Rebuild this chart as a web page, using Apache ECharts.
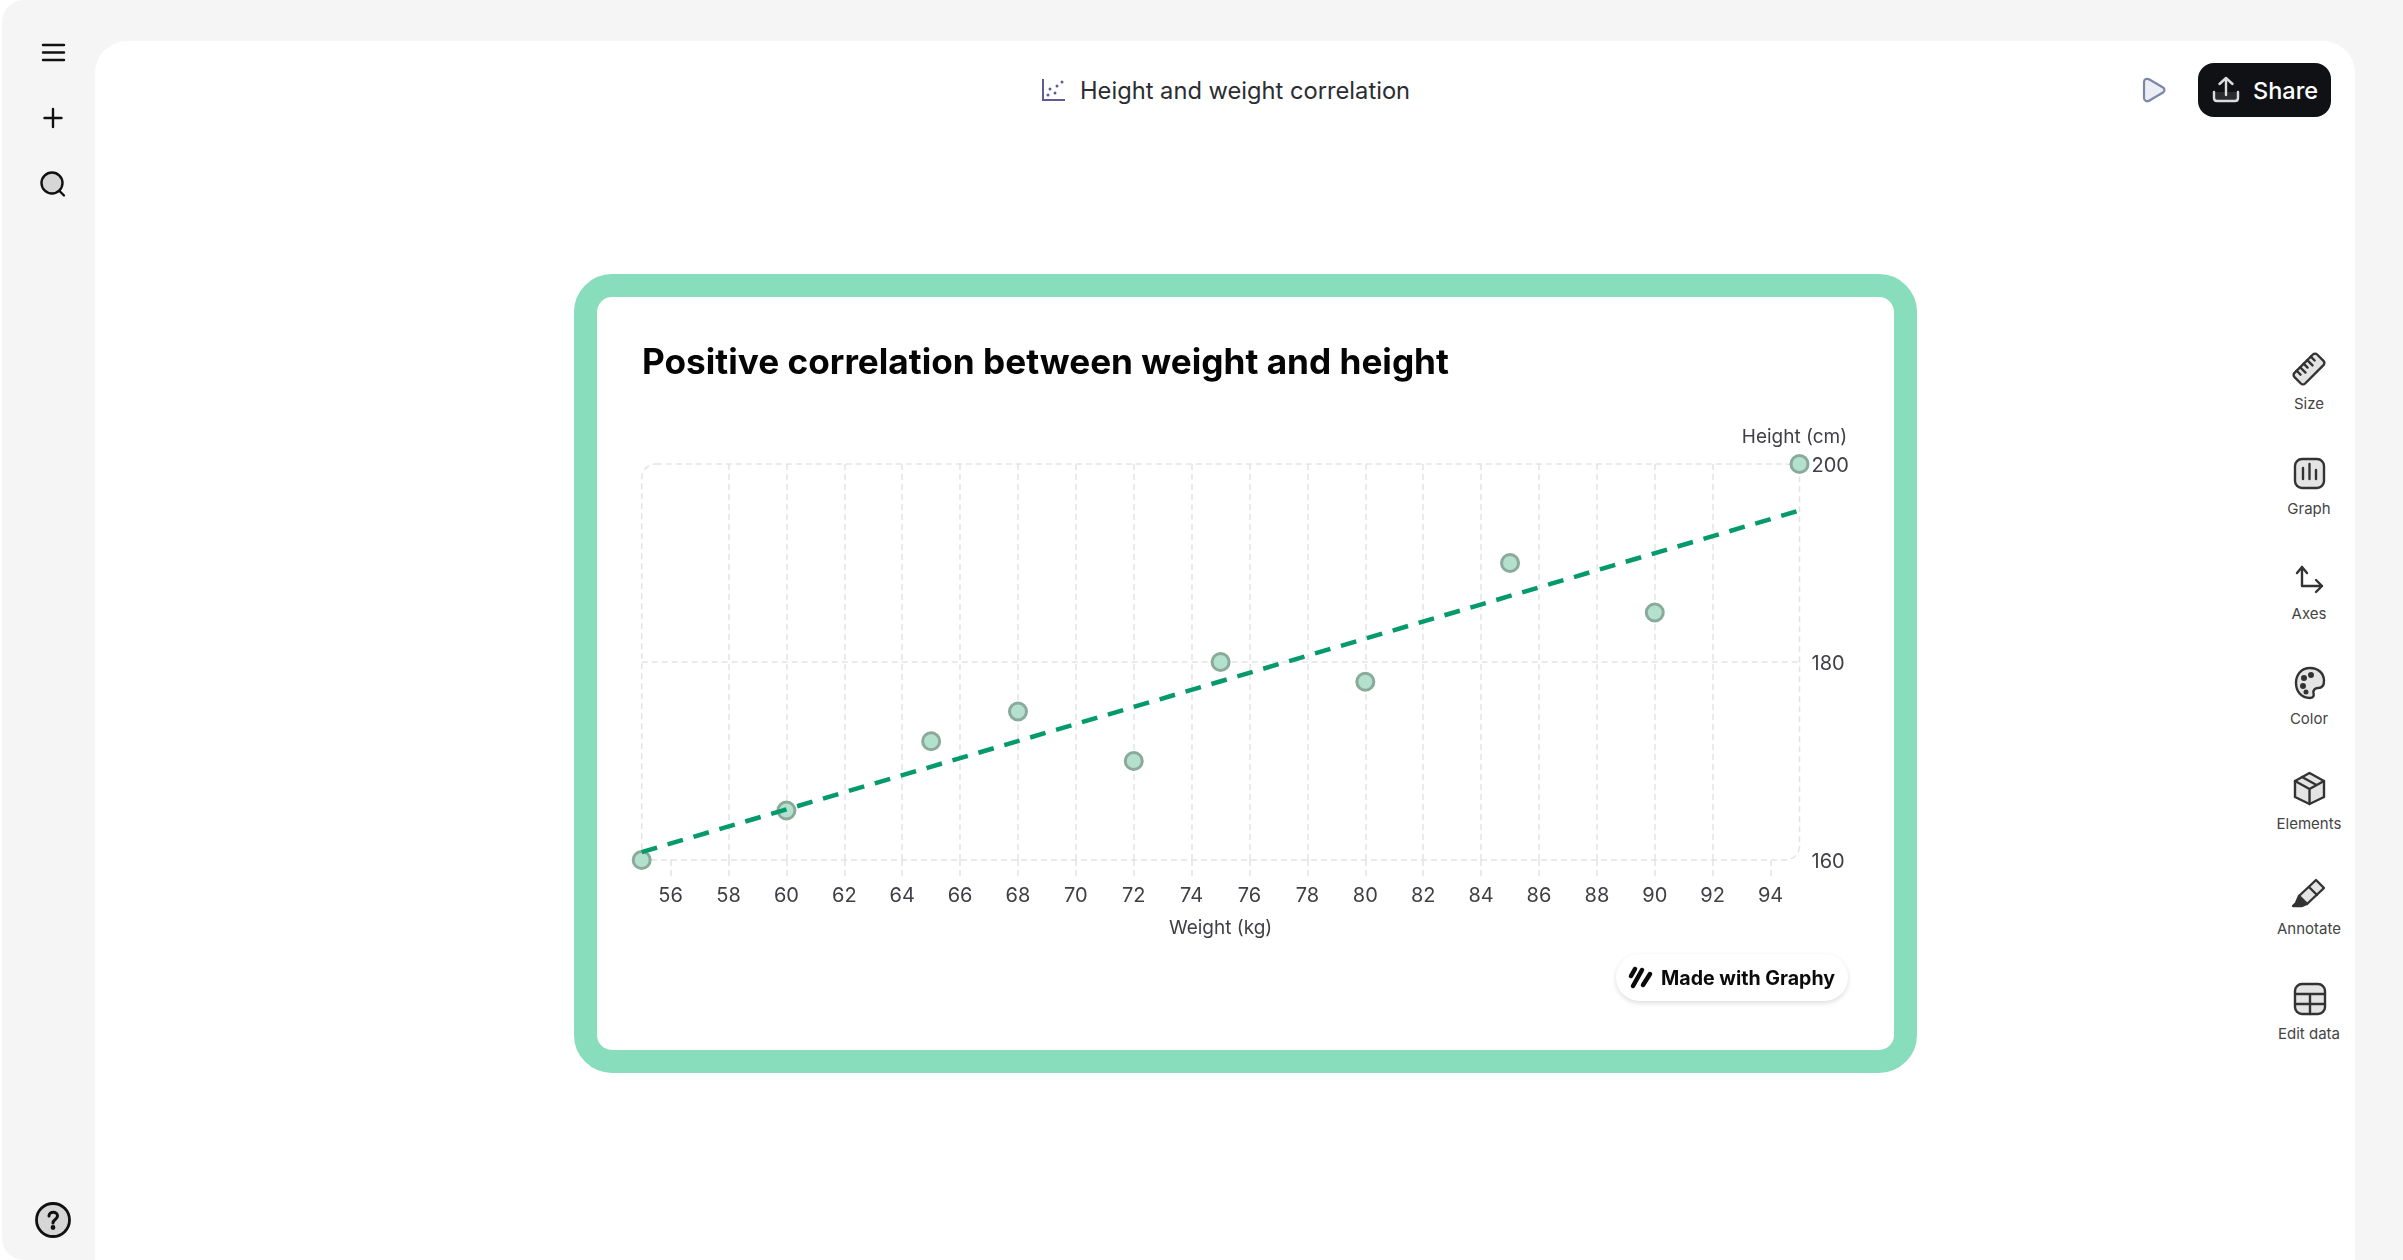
<!DOCTYPE html>
<html>
<head>
<meta charset="utf-8">
<title>Height and weight correlation</title>
<script src="https://cdn.jsdelivr.net/npm/echarts@6/dist/echarts.min.js"></script>
<style>
  html, body { margin: 0; padding: 0; width: 2403px; height: 1260px; overflow: hidden; background: #fff; font-family: Inter, "Noto Sans", sans-serif; }
  .abs { position: absolute; }
  #rail { left: 2px; top: 0; width: 2401px; height: 1260px; background: #f5f5f5; border-radius: 22px 0 0 22px; }
  #main { left: 95px; top: 41px; width: 2259.500px; height: 1219px; background: #fff; border-radius: 32px 32px 0 0; }
  #card { left: 574px; top: 274px; width: 1296.500px; height: 753px; border: 23px solid #88ddbd; border-radius: 38px; background: #fff; }
  #chart { left: 0; top: 0; width: 2403px; height: 1260px; }
  #docTitle { left: 1080px; top: 72.500px; font-size: 23.700px; line-height: 36px; font-weight: 400; color: #2b2d31; white-space: nowrap; }
  #share { left: 2198px; top: 63px; width: 133px; height: 54px; background: #101114; border-radius: 16px; }
  #shareText { left: 2253px; top: 72.500px; font-size: 23.500px; line-height: 36px; font-weight: 500; color: #fff; }
  #badge { left: 1616px; top: 954px; width: 232px; height: 47px; border-radius: 24px; background: #fff; box-shadow: 0 2px 5px rgba(0,0,0,.14); }
  #badgeText { left: 1661px; top: 965px; font-size: 19.600px; line-height: 27px; font-weight: 700; color: #0b0b0c; white-space: nowrap; }
  .tool { width: 100px; left: 2259px; text-align: center; font-size: 15px; line-height: 20px; color: #444; }
  svg { position: absolute; overflow: visible; }
</style>
</head>
<body>
<div id="rail" class="abs"></div>
<div id="main" class="abs"></div>
<div id="card" class="abs"></div>

<!-- left rail icons -->
<svg style="left:0;top:0" width="120" height="240" fill="none" stroke="#111" stroke-width="2.4" stroke-linecap="round">
  <path d="M43 45H64M43 52.500H64M43 60H64"/>
  <path d="M53 109V127M44.500 118H61.500"/>
  <circle cx="52" cy="183" r="10.500" fill="#d6d6d6"/>
  <path d="M59.500 191L64 195.500"/>
</svg>
<svg style="left:0;top:1180px" width="120" height="80" fill="none" stroke="#111" stroke-width="2.8">
  <circle cx="53" cy="40" r="16.500" fill="#d6d6d6"/>
  <path d="M49 36C49 31 57.500 31 57.500 36C57.500 39.500 53 39.500 53 43" stroke-linecap="round" stroke-width="3"/>
  <circle cx="53" cy="47.500" r="1" fill="#111"/>
</svg>

<!-- document heading -->
<svg style="left:1040px;top:76px" width="28" height="28" fill="#5d5c94">
  <path d="M3 3V24H25" fill="none" stroke="#5d5c94" stroke-width="2"/>
  <circle cx="8" cy="19" r="1.500"/><circle cx="15" cy="17" r="1.500"/><circle cx="10" cy="13" r="1.500"/>
  <circle cx="17" cy="10" r="1.500"/><circle cx="22" cy="6" r="1.500"/>
</svg>
<div id="docTitle" class="abs">Height and weight correlation</div>

<!-- play and share controls -->
<svg style="left:2140px;top:74px" width="30" height="32">
  <path d="M4 8C4 5 7 4 9.500 5.500L23 13.500C25 15 25 17 23 18.500L9.500 26.500C7 28 4 27 4 24Z" fill="#eceef5" stroke="#7d86a8" stroke-width="2.200"/>
</svg>
<div id="share" class="abs"></div>
<svg style="left:2210px;top:74px" width="32" height="32" fill="none" stroke="#dcdcdc" stroke-width="2.400" stroke-linecap="round" stroke-linejoin="round">
  <path d="M4 18V24C4 26 5 27 7 27H25C27 27 28 26 28 24V18" fill="#2a2b2f"/>
  <path d="M16 21V4M9.500 10L16 4L22.500 10"/>
</svg>
<div id="shareText" class="abs">Share</div>

<!-- right toolbar icons -->
<svg style="left:2290px;top:350px" width="40" height="680" fill="#e4e4e4" stroke="#333" stroke-width="2.400" stroke-linejoin="round" stroke-linecap="round">
  <g transform="translate(0 1) rotate(-45 19 18)"><rect x="3" y="10.500" width="32" height="15" rx="3"/><path d="M9 10.500V16M14 10.500V18M19 10.500V16M24 10.500V18M29 10.500V16" fill="none"/></g>
  <rect x="5" y="109" width="29" height="29" rx="7"/>
  <path d="M13 118V129M19.500 114V129M26 120V129" fill="none"/>
  <path d="M7 223L12 217L17 223M12 217V236H32M26 230L32 236L26 242" fill="none"/>
  <path d="M20 318C11 318 6 325 6 333C6 341 11 348 20 348C24 348 24 345 23.500 343C23 340 25 338 28 338C32 338 34 335 34 331C34 323 28 318 20 318Z"/>
  <circle cx="14" cy="328" r="1.800" fill="#333"/><circle cx="21" cy="325" r="1.800" fill="#333"/><circle cx="13" cy="336" r="1.800" fill="#333"/><circle cx="16" cy="342" r="1.300" fill="#333"/>
  <path d="M19.500 423L34 431V447L19.500 454L5 447V431Z"/>
  <path d="M5 431L19.500 439L34 431M19.500 439V454M12 427L26.500 435" fill="none"/>
  <path d="M26 530L34 538L17 554L9 546Z"/>
  <path d="M19 537L27 545" fill="none"/>
  <path d="M9 546L6 553L3 556H12L17 554Z" fill="#333"/>
  <rect x="5" y="634" width="30" height="30" rx="7"/>
  <path d="M5 644H35M5 654H35M20 644V664" fill="none"/>
</svg>
<div class="abs tool" style="top:394px">Size</div>
<div class="abs tool" style="top:499px">Graph</div>
<div class="abs tool" style="top:604px">Axes</div>
<div class="abs tool" style="top:709px">Color</div>
<div class="abs tool" style="top:814px">Elements</div>
<div class="abs tool" style="top:919px">Annotate</div>
<div class="abs tool" style="top:1024px">Edit data</div>

<div id="chart" class="abs"></div>

<!-- attribution pill -->
<div id="badge" class="abs"></div>
<svg style="left:1628px;top:966px" width="26" height="24" fill="none" stroke="#0b0b0c" stroke-width="4.500" stroke-linecap="round">
  <path d="M3 10L7 3M5 20L14 4M15 19L22 8"/>
</svg>
<div id="badgeText" class="abs">Made with Graphy</div>

<script>
// Measured weight and height per person
const weights = [55, 60, 65, 68, 72, 75, 80, 85, 90, 95];
const heights = [160, 165, 172, 175, 170, 180, 178, 190, 185, 200];

// Fitted trend between the two ends of the weight range
const trendWeights = [55, 95];
const trendHeights = [160.8, 195.3];

// Tick labels along each axis
const weightTicks = [56, 58, 60, 62, 64, 66, 68, 70, 72, 74, 76, 78, 80, 82, 84, 86, 88, 90, 92, 94];
const heightRange = [160, 200];
const heightStep = 20;

const gridDash = { color: '#e3e3e3', width: 1.5, type: [6, 4] };
const tickText = { color: '#3f3f46', fontSize: 20, fontFamily: 'Inter' };
const nameText = { color: '#3f3f46', fontSize: 19, fontFamily: 'Inter' };

const chart = echarts.init(document.getElementById('chart'), null, { renderer: 'canvas' });

chart.setOption({
  animation: false,
  backgroundColor: 'transparent',
  title: {
    text: 'Positive correlation between weight and height',
    left: 642, top: 341, padding: 0,
    textStyle: { color: '#050505', fontSize: 35.2, fontWeight: 700, fontFamily: 'Inter', lineHeight: 44 }
  },
  grid: { left: 641.7, top: 464, width: 1157.8, height: 396, containLabel: false },
  xAxis: {
    type: 'value', min: weights[0], max: weights[weights.length - 1],
    name: 'Weight (kg)', nameLocation: 'middle', nameGap: 58.5, nameTextStyle: nameText,
    axisLine: { show: false },
    axisTick: { show: true, length: 16, lineStyle: gridDash, customValues: weightTicks },
    axisLabel: { color: tickText.color, fontSize: tickText.fontSize, fontFamily: tickText.fontFamily, margin: 25.5, customValues: weightTicks },
    splitLine: { show: true, lineStyle: gridDash, showMinLine: false, showMaxLine: false }
  },
  yAxis: {
    type: 'value', position: 'right', min: heightRange[0], max: heightRange[1], interval: heightStep,
    name: 'Height (cm)', nameLocation: 'end', nameGap: 17,
    nameTextStyle: Object.assign({ align: 'center', padding: [0, 10, 0, 0] }, nameText),
    axisLine: { show: false }, axisTick: { show: false },
    axisLabel: {
      margin: 12,
      formatter: '{v|{value}}',
      rich: { v: { color: tickText.color, fontSize: tickText.fontSize, fontFamily: tickText.fontFamily, padding: [3, 0, 0, 0] } }
    },
    splitLine: { show: true, lineStyle: gridDash, showMinLine: false, showMaxLine: false }
  },
  series: [
    {
      type: 'scatter', z: 3, symbolSize: 17,
      data: weights.map((w, i) => [w, heights[i]]),
      itemStyle: { color: '#b3e1ce', borderColor: '#8aaa9c', borderWidth: 3, opacity: 1 }
    },
    {
      type: 'line', z: 4, symbol: 'none', silent: true,
      data: trendWeights.map((w, i) => [w, trendHeights[i]]),
      lineStyle: { color: '#049a6b', width: 4.5, type: [16, 11] }
    }
  ]
});

// Rounded dashed frame around the plot area, placed from the axis scales
const topLeft = chart.convertToPixel({ gridIndex: 0 }, [weights[0], heightRange[1]]);
const bottomRight = chart.convertToPixel({ gridIndex: 0 }, [weights[weights.length - 1], heightRange[0]]);
chart.setOption({
  graphic: [{
    type: 'rect', z: 1, silent: true,
    shape: { x: topLeft[0], y: topLeft[1], width: bottomRight[0] - topLeft[0], height: bottomRight[1] - topLeft[1], r: 14 },
    style: { fill: 'none', stroke: gridDash.color, lineWidth: gridDash.width, lineDash: gridDash.type }
  }]
});
</script>
</body>
</html>
